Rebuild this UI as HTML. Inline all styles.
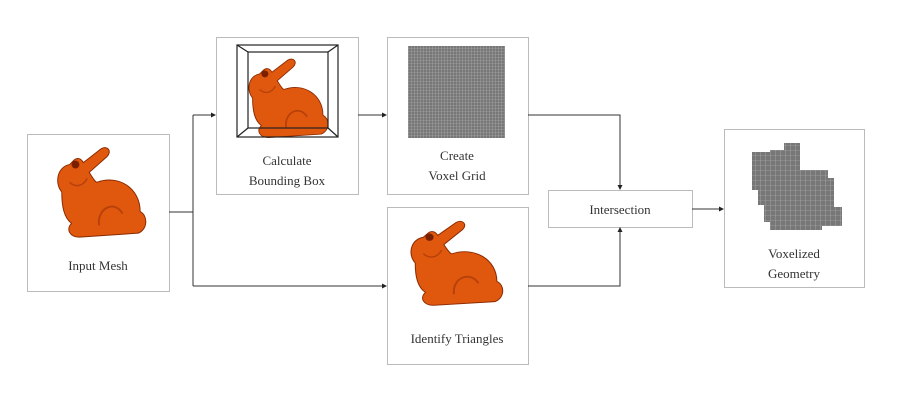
<!DOCTYPE html>
<html><head><meta charset="utf-8"><style>
body{margin:0;background:#fff;}
svg text{font-family:"Liberation Serif",serif;font-size:13px;fill:#333;text-anchor:middle}
</style></head><body>
<svg width="900" height="400" viewBox="0 0 900 400" xmlns="http://www.w3.org/2000/svg">
<defs>
<pattern id="g" width="3" height="3" patternUnits="userSpaceOnUse"><rect width="3" height="3" fill="#777"/><path d="M0 0H3M0 0V3" stroke="#bbb" stroke-width="0.6"/></pattern>
<pattern id="v" width="5" height="5" patternUnits="userSpaceOnUse"><rect width="5" height="5" fill="#777"/><path d="M0 0H5M0 0V5" stroke="#bbb" stroke-width="0.6"/></pattern>
<g id="bunny">
<path d="M12 50 C4 40 8 24 20 22 L24 18 C28 14 32 16 34 20 L52 6 C58 2 64 8 58 14 L40 30 C44 36 46 40 48 40 C70 32 92 46 92 70 C100 74 100 88 90 92 L30 96 C20 96 16 88 22 82 C14 76 12 64 12 50Z" fill="#e0580e" stroke="#8a2a00" stroke-width="1"/>
<path d="M50 84 C48 66 66 58 74 72" fill="none" stroke="#b8400a" stroke-width="2"/>
<path d="M20 40 C26 46 34 44 38 36" fill="none" stroke="#b8400a" stroke-width="1.5"/>
<circle cx="26" cy="22" r="4" fill="#7a2000"/>
</g>
</defs>
<g fill="#fff" stroke="#bbb" stroke-width="1">
<rect x="27.5" y="134.5" width="142" height="157"/>
<rect x="216.5" y="37.5" width="142" height="157"/>
<rect x="387.5" y="37.5" width="141" height="157"/>
<rect x="387.5" y="207.5" width="141" height="157"/>
<rect x="548.5" y="190.5" width="144" height="37"/>
<rect x="724.5" y="129.5" width="140" height="158"/>
</g>
<g stroke="#333" stroke-width="1" fill="none">
<path d="M169 212H193M193 115V286M193 115H212M193 286H383M358 115H383M528 115H620V186M528 286H620V231M692 209H720"/>
</g>
<g fill="#222">
<path d="M216 115l-5-2.5v5z"/><path d="M387 115l-5-2.5v5z"/><path d="M387 286l-5-2.5v5z"/>
<path d="M620 190l-2.5-5h5z"/><path d="M620 227l-2.5 5h5z"/><path d="M724 209l-5-2.5v5z"/>
</g>
<use href="#bunny" transform="translate(50,143) scale(0.98)"/>
<use href="#bunny" transform="translate(242,55) scale(0.88,0.86)"/>
<use href="#bunny" transform="translate(403,217) scale(1.02,0.92)"/>
<g stroke="#222" stroke-width="1.2" fill="none">
<rect x="237" y="45" width="101" height="92"/><rect x="248" y="52" width="80" height="76"/>
<path d="M237 45L248 52M338 45L328 52M237 137L248 128M338 137L328 128"/>
</g>
<rect x="408" y="46" width="97" height="92" fill="url(#g)"/>
<path d="M752 152H770V150H784V143H800V170H828V178H834V207H842V226H822V230H770V222H764V205H758V190H752Z" fill="url(#v)"/>
<text x="98" y="270">Input Mesh</text>
<text x="287" y="165">Calculate</text><text x="287" y="185">Bounding Box</text>
<text x="457" y="160">Create</text><text x="457" y="180">Voxel Grid</text>
<text x="457" y="343">Identify Triangles</text>
<text x="620" y="214">Intersection</text>
<text x="794" y="258">Voxelized</text><text x="794" y="278">Geometry</text>
</svg>
</body></html>
